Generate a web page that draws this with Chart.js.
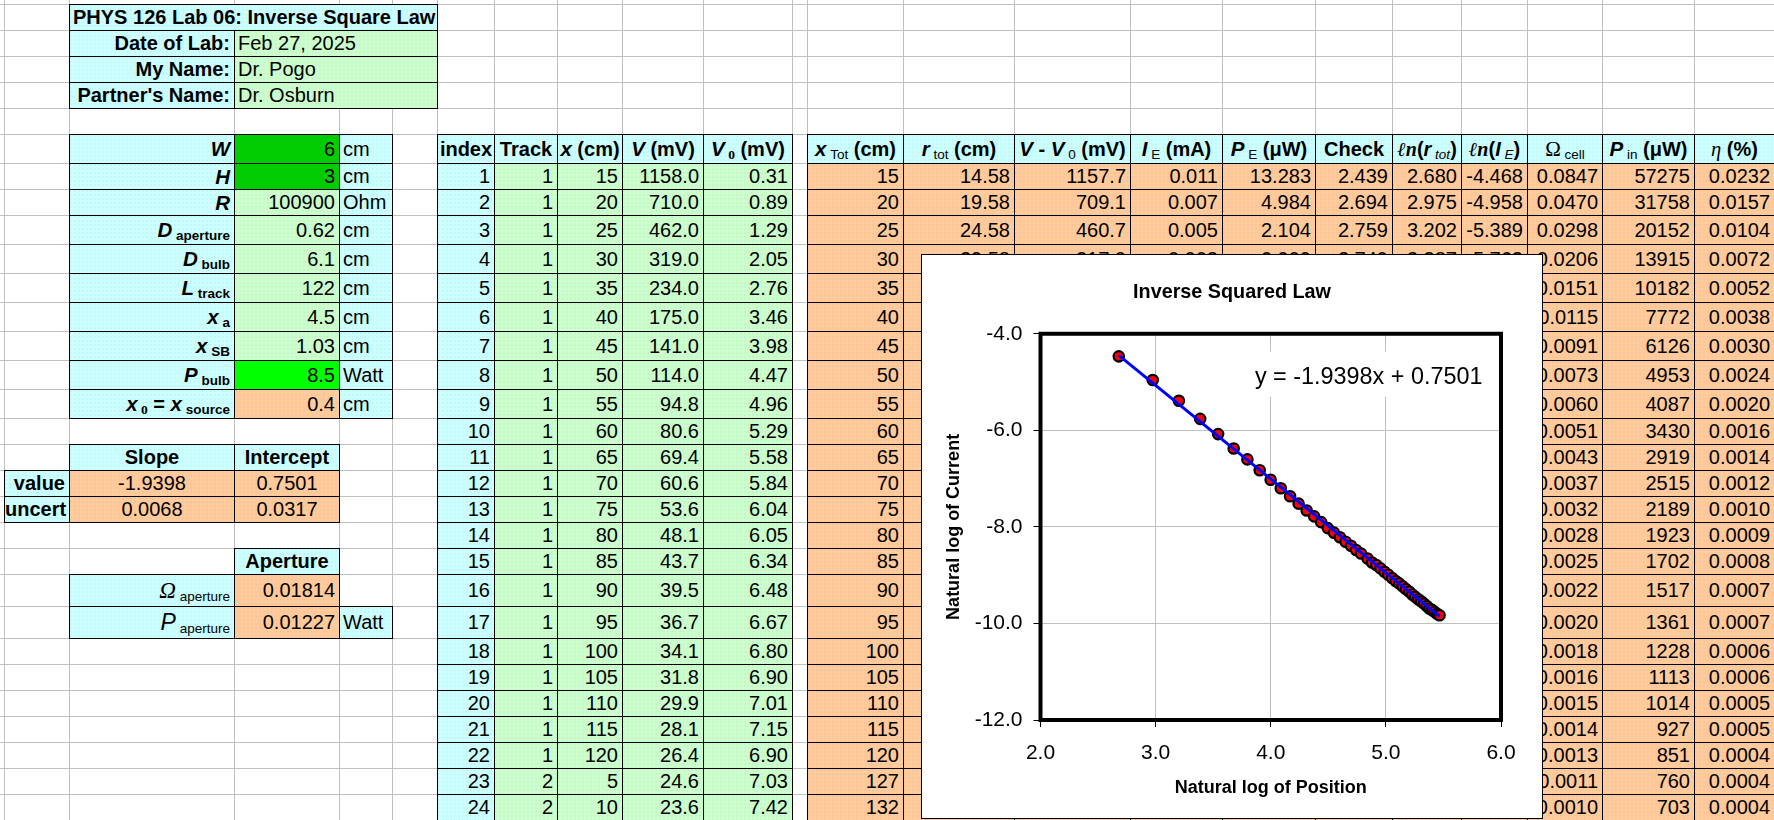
<!DOCTYPE html>
<html>
<head>
<meta charset="utf-8">
<title>PHYS 126 Lab 06</title>
<script src="https://cdn.jsdelivr.net/npm/chart.js@4/dist/chart.umd.min.js"></script>
<style>
  html, body { margin: 0; background: #fff; }
  body { position: relative; width: 1774px; height: 820px; overflow: hidden; font-family: "Liberation Sans", Arial, sans-serif; font-size: 20px; color: #000; }
  .g { position: absolute; background: #c0c0c0; }
  .c { position: absolute; box-sizing: border-box; border: 1px solid #000; padding: 0 4px 0 0; white-space: nowrap; overflow: hidden; text-align: right; background-size: 4px 4px; }
  .cy { background-color: #ccffff; background-image: radial-gradient(circle at 1px 1px, #c4f8f6 0.7px, transparent 0.9px); }
  .gr { background-color: #ccffcc; background-image: radial-gradient(circle at 1px 1px, #c4f8cc 0.7px, transparent 0.9px); }
  .pe { background-color: #ffcc99; background-image: radial-gradient(circle at 1px 1px, #fbc4a2 0.7px, transparent 0.9px); }
  .g1 { background: #00cc00; }
  .g2 { background: #00ff00; }
  .l { text-align: left; padding: 0 0 0 3px; }
  .m { text-align: center; padding: 0; }
  .b { font-weight: bold; }
  .big { font-size: 20.5px; font-weight: bold; font-style: italic; }
  .sb { font-size: 13.5px; font-weight: bold; position: relative; top: 3px; line-height: 0; }
  .sr { font-size: 13.5px; font-weight: normal; position: relative; top: 3px; line-height: 0; }
  .sym { font-family: "Liberation Serif", serif; }
  #box { position: absolute; left: 922px; top: 255px; width: 620px; height: 563px; background: #fff; outline: 1px solid #000; }
</style>
</head>
<body>
<div id="sheet"></div>
<div id="box"><canvas id="chart" width="620" height="563"></canvas></div>
<script>
// Plot data
const lnR = [2.680, 2.975, 3.202, 3.387, 3.543, 3.678, 3.797, 3.904, 3.999, 4.087, 4.168, 4.242, 4.312, 4.377, 4.438, 4.495, 4.549, 4.601, 4.650, 4.697, 4.741, 4.784, 4.841, 4.880, 4.917, 4.953, 4.988, 5.021, 5.054, 5.085, 5.115, 5.145, 5.174, 5.202, 5.229, 5.255, 5.281, 5.306, 5.331, 5.355, 5.378, 5.401, 5.423, 5.445, 5.466];
const lnI = [-4.468, -4.958, -5.389, -5.763, -6.078, -6.377, -6.602, -6.826, -7.024, -7.200, -7.366, -7.519, -7.660, -7.783, -7.902, -8.025, -8.120, -8.215, -8.307, -8.391, -8.480, -8.551, -8.656, -8.738, -8.79, -8.86, -8.93, -8.99, -9.06, -9.12, -9.17, -9.23, -9.29, -9.34, -9.40, -9.45, -9.50, -9.54, -9.59, -9.64, -9.69, -9.72, -9.76, -9.80, -9.83];
const fitX = [2.680, 5.466];
const fitY = [-4.449, -9.853];
const fitLabel = 'y = -1.9398x + 0.7501';

// Spreadsheet columns
const indexCol = ['1','2','3','4','5','6','7','8','9','10','11','12','13','14','15','16','17','18','19','20','21','22','23','24'];
const trackCol = ['1','1','1','1','1','1','1','1','1','1','1','1','1','1','1','1','1','1','1','1','1','1','2','2'];
const xCol = ['15','20','25','30','35','40','45','50','55','60','65','70','75','80','85','90','95','100','105','110','115','120','5','10'];
const vCol = ['1158.0','710.0','462.0','319.0','234.0','175.0','141.0','114.0','94.8','80.6','69.4','60.6','53.6','48.1','43.7','39.5','36.7','34.1','31.8','29.9','28.1','26.4','24.6','23.6'];
const v0Col = ['0.31','0.89','1.29','2.05','2.76','3.46','3.98','4.47','4.96','5.29','5.58','5.84','6.04','6.05','6.34','6.48','6.67','6.80','6.90','7.01','7.15','6.90','7.03','7.42'];
const xTotCol = ['15','20','25','30','35','40','45','50','55','60','65','70','75','80','85','90','95','100','105','110','115','120','127','132'];
// only the top rows of these show above the chart
const rTotCol = ['14.58','19.58','24.58','29.58'];
const vDiffCol = ['1157.7','709.1','460.7','317.0'];
const iECol = ['0.011','0.007','0.005','0.003'];
const pECol = ['13.283','4.984','2.104','0.999'];
const checkCol = ['2.439','2.694','2.759','2.749'];
const lnRCol = ['2.680','2.975','3.202','3.387'];
const lnICol = ['-4.468','-4.958','-5.389','-5.763'];
const omegaCol = ['0.0847','0.0470','0.0298','0.0206','0.0151','0.0115','0.0091','0.0073','0.0060','0.0051','0.0043','0.0037','0.0032','0.0028','0.0025','0.0022','0.0020','0.0018','0.0016','0.0015','0.0014','0.0013','0.0011','0.0010'];
const pInCol = ['57275','31758','20152','13915','10182','7772','6126','4953','4087','3430','2919','2515','2189','1923','1702','1517','1361','1228','1113','1014','927','851','760','703'];
const etaCol = ['0.0232','0.0157','0.0104','0.0072','0.0052','0.0038','0.0030','0.0024','0.0020','0.0016','0.0014','0.0012','0.0010','0.0009','0.0008','0.0007','0.0007','0.0006','0.0006','0.0005','0.0005','0.0004','0.0004','0.0004'];

// Sheet grid in page pixels
const colX = [4,69,234,339,392,437,494,557,622,703,792,807,903,1014,1130,1222,1315,1392,1461,1527,1602,1694,1774];
const rowY = [4,30,56,82,108,134,163,189,215,244,273,302,331,360,389,418,444,470,496,522,548,574,606,638,664,690,716,742,768,794,820,846];

const sheet = document.getElementById('sheet');

function gridLine(x, y, w, h) {
  const d = document.createElement('div');
  d.className = 'g';
  d.style.cssText = `left:${x}px;top:${y}px;width:${w}px;height:${h}px`;
  sheet.appendChild(d);
}
colX.forEach(x => gridLine(x, 0, 1, 820));
rowY.forEach(y => gridLine(0, y, 1774, 1));

function cell(c0, c1, r0, r1, cls, html) {
  const d = document.createElement('div');
  const h = rowY[r1] - rowY[r0] + 1;
  d.className = 'c ' + cls;
  d.style.cssText = `left:${colX[c0]}px;top:${rowY[r0]}px;width:${colX[c1] - colX[c0] + 1}px;height:${h}px;line-height:${h - 2}px`;
  d.innerHTML = html;
  sheet.appendChild(d);
}

const big = t => `<span class="big">${t}</span>`;
const sb = t => `<span class="sb">&nbsp;${t}</span>`;
const sr = t => `<span class="sr">&nbsp;${t}</span>`;
const zero = '<span class="sb sym">&nbsp;0</span>';
const ln = '<i class="sym">&#8467;n</i>';

// Title block
cell(1, 5, 0, 1, 'cy l b', 'PHYS 126 Lab 06: Inverse Square Law');
cell(1, 2, 1, 2, 'cy b', 'Date of Lab:');
cell(2, 5, 1, 2, 'gr l', 'Feb 27, 2025');
cell(1, 2, 2, 3, 'cy b', 'My Name:');
cell(2, 5, 2, 3, 'gr l', 'Dr. Pogo');
cell(1, 2, 3, 4, 'cy b', "Partner's Name:");
cell(2, 5, 3, 4, 'gr l', 'Dr. Osburn');

// Parameters
const params = [
  [big('W'), 'g1', '6', 'cm'],
  [big('H'), 'g1', '3', 'cm'],
  [big('R'), 'gr', '100900', 'Ohm'],
  [big('D') + sb('aperture'), 'gr', '0.62', 'cm'],
  [big('D') + sb('bulb'), 'gr', '6.1', 'cm'],
  [big('L') + sb('track'), 'gr', '122', 'cm'],
  [big('x') + sb('a'), 'gr', '4.5', 'cm'],
  [big('x') + sb('SB'), 'gr', '1.03', 'cm'],
  [big('P') + sb('bulb'), 'g2', '8.5', 'Watt'],
  [big('x') + zero + ' <b>=</b> ' + big('x') + sb('source'), 'pe', '0.4', 'cm']
];
params.forEach((p, i) => {
  cell(1, 2, 5 + i, 6 + i, 'cy', p[0]);
  cell(2, 3, 5 + i, 6 + i, p[1], p[2]);
  cell(3, 4, 5 + i, 6 + i, 'cy l', p[3]);
});

// Fit results
cell(1, 2, 16, 17, 'cy m b', 'Slope');
cell(2, 3, 16, 17, 'cy m b', 'Intercept');
cell(0, 1, 17, 18, 'cy b', 'value');
cell(1, 2, 17, 18, 'pe m', '-1.9398');
cell(2, 3, 17, 18, 'pe m', '0.7501');
cell(0, 1, 18, 19, 'cy b', 'uncert');
cell(1, 2, 18, 19, 'pe m', '0.0068');
cell(2, 3, 18, 19, 'pe m', '0.0317');

// Aperture
cell(2, 3, 20, 21, 'cy m b', 'Aperture');
cell(1, 2, 21, 22, 'cy', '<i class="sym" style="font-size:23px">&Omega;</i>' + sr('aperture'));
cell(2, 3, 21, 22, 'pe', '0.01814');
cell(1, 2, 22, 23, 'cy', '<i style="font-size:23px">P</i>' + sr('aperture'));
cell(2, 3, 22, 23, 'pe', '0.01227');
cell(3, 4, 22, 23, 'cy l', 'Watt');

// Data table headers
const headers = [
  [5, 'index'], [6, 'Track'],
  [7, big('x') + ' <b>(cm)</b>'], [8, big('V') + ' <b>(mV)</b>'], [9, big('V') + zero + ' <b>(mV)</b>'],
  [11, big('x') + sr('Tot') + ' <b>(cm)</b>'], [12, big('r') + sr('tot') + ' <b>(cm)</b>'],
  [13, big('V') + ' <b>-</b> ' + big('V') + sr('0') + ' <b>(mV)</b>'],
  [14, big('I') + sr('E') + ' <b>(mA)</b>'], [15, big('P') + sr('E') + ' <b>(&mu;W)</b>'], [16, 'Check'],
  [17, `<b>${ln}(<i>r</i></b>${sr('<i>tot</i>')}<b>)</b>`], [18, `<b>${ln}(<i>I</i></b>${sr('<i>E</i>')}<b>)</b>`],
  [19, '<span class="sym" style="font-size:21px;font-weight:normal">&Omega;</span>' + sr('cell')],
  [20, big('P') + sr('in') + ' <b>(&mu;W)</b>'], [21, '<i class="sym big" style="font-weight:normal">&eta;</i> <b>(%)</b>']
];
headers.forEach(h => cell(h[0], h[0] + 1, 5, 6, 'cy m b', h[1]));

// Data table rows
const bodyCols = [
  [5, 'cy', indexCol], [6, 'gr', trackCol], [7, 'gr', xCol], [8, 'gr', vCol], [9, 'gr', v0Col],
  [11, 'pe', xTotCol], [12, 'pe', rTotCol], [13, 'pe', vDiffCol], [14, 'pe', iECol], [15, 'pe', pECol],
  [16, 'pe', checkCol], [17, 'pe', lnRCol], [18, 'pe', lnICol], [19, 'pe', omegaCol], [20, 'pe', pInCol], [21, 'pe', etaCol]
];
bodyCols.forEach(col => {
  for (let i = 0; i < 24; i++) {
    cell(col[0], col[0] + 1, 6 + i, 7 + i, col[1], col[2][i] || '');
  }
});

// Thick frame around the plot plus the fit equation on its white patch
const plotExtras = {
  id: 'plotExtras',
  beforeDatasetsDraw(chart) {
    const c = chart.ctx, a = chart.chartArea;
    c.save();
    c.fillStyle = '#fff';
    c.fillRect(a.left + 212, a.top + 18, 236, 45);
    c.fillStyle = '#000';
    c.font = '23.4px "Liberation Sans", Arial, sans-serif';
    c.textAlign = 'right';
    c.textBaseline = 'middle';
    c.fillText(fitLabel, a.left + 442, a.top + 44);
    c.strokeStyle = '#000';
    c.lineWidth = 4;
    c.strokeRect(a.left, a.top, a.width, a.height);
    c.restore();
  }
};

const font = { family: '"Liberation Sans", Arial, sans-serif' };

new Chart(document.getElementById('chart'), {
  type: 'scatter',
  plugins: [plotExtras],
  data: {
    datasets: [
      {
        label: 'Trendline',
        data: fitX.map((x, i) => ({ x: x, y: fitY[i] })),
        showLine: true,
        borderColor: '#0000ff',
        borderWidth: 3,
        pointRadius: 0,
        order: 0
      },
      {
        label: 'Data',
        data: lnR.map((x, i) => ({ x: x, y: lnI[i] })),
        showLine: false,
        backgroundColor: '#ff0000',
        borderColor: '#000',
        borderWidth: 2.2,
        pointRadius: 5.2,
        order: 1
      }
    ]
  },
  options: {
    responsive: false,
    animation: false,
    plugins: {
      legend: { display: false },
      tooltip: { enabled: false },
      title: {
        display: true,
        text: 'Inverse Squared Law',
        color: '#000',
        font: { ...font, size: 19.8, weight: 'bold', lineHeight: 1.2 },
        padding: { top: 26, bottom: 29 }
      }
    },
    scales: {
      x: {
        type: 'linear',
        min: 2,
        max: 6,
        afterFit(s) { s.height = 98; },
        border: { display: false },
        grid: { color: '#c0c0c0', tickColor: '#000', tickLength: 7 },
        ticks: { stepSize: 1, color: '#000', padding: 14, maxRotation: 0, font: { ...font, size: 21 }, callback: v => v.toFixed(1) },
        title: { display: true, text: 'Natural log of Position', color: '#000', font: { ...font, size: 18, weight: 'bold' }, padding: { top: 0, bottom: 19 } }
      },
      y: {
        type: 'linear',
        min: -12,
        max: -4,
        afterFit(s) { s.width = 118.5; },
        border: { display: false },
        grid: { color: '#c0c0c0', tickColor: '#000', tickLength: 7 },
        ticks: { stepSize: 2, color: '#000', padding: 11, font: { ...font, size: 21 }, callback: v => v.toFixed(1) },
        title: { display: true, text: 'Natural log of Current', color: '#000', font: { ...font, size: 18, weight: 'bold' }, padding: { top: 21, bottom: 0 } }
      },
      // empty right axis keeps the plot clear of the box edge while the title stays centred on the whole chart
      yRight: {
        type: 'linear',
        position: 'right',
        afterFit(s) { s.width = 41; },
        border: { display: false },
        grid: { display: false },
        ticks: { display: false }
      }
    }
  }
});
</script>
</body>
</html>
